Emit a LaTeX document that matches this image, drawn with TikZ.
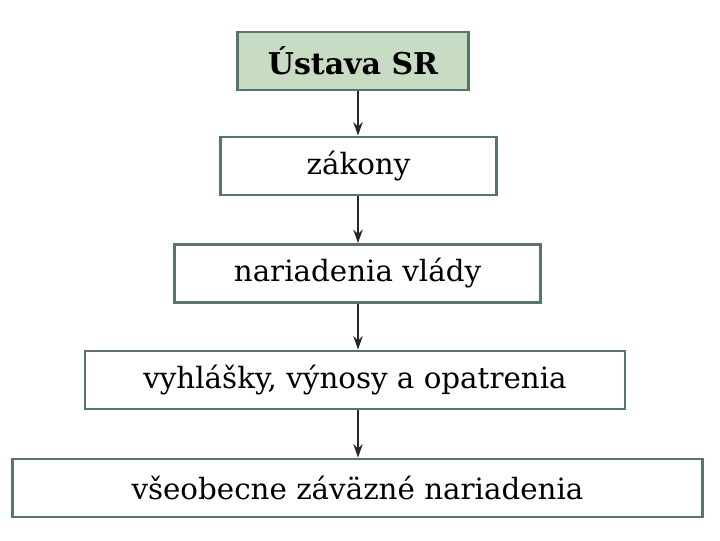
\documentclass[tikz,border=0pt]{standalone}
\usepackage{fontspec}
\setmainfont{DejaVu Serif}
\usetikzlibrary{arrows.meta}

\definecolor{boxline}{RGB}{88,118,104}
\definecolor{boxgreen}{RGB}{200,220,196}

\begin{document}
\begin{tikzpicture}[x=0.75pt,y=0.75pt,yscale=-1,xscale=1,
	level/.style={draw=boxline, line width=2.2pt, minimum height=43.5pt, inner sep=0pt, font=\fontsize{22}{26}\selectfont},
	down/.style={line width=1.6pt, color=black!85, -{Stealth[length=10pt,width=7pt]}}]

	\useasboundingbox (0,0) rectangle (720,540);

	\node [level, fill=boxgreen, minimum width=173pt, font=\fontsize{22.5}{26}\selectfont\bfseries] (ustava) at (353,61) {Ústava SR};
	\node [level, minimum width=207pt] (zakony) at (358.5,166) {zákony};
	\node [level, minimum width=275pt] (nariadenia) at (357.5,273.5) {nariadenia vlády};
	\node [level, minimum width=405pt] (vyhlasky) at (355,380) {vyhlášky, výnosy a opatrenia};
	\node [level, minimum width=518pt] (vzn) at (357.5,488) {všeobecne záväzné nariadenia};

	\draw [down] (ustava.south -| 358,0) -- (zakony.north -| 358,0);
	\draw [down] (zakony.south -| 358,0) -- (nariadenia.north -| 358,0);
	\draw [down] (nariadenia.south -| 358,0) -- (vyhlasky.north -| 358,0);
	\draw [down] (vyhlasky.south -| 358,0) -- (vzn.north -| 358,0);
\end{tikzpicture}
\end{document}
